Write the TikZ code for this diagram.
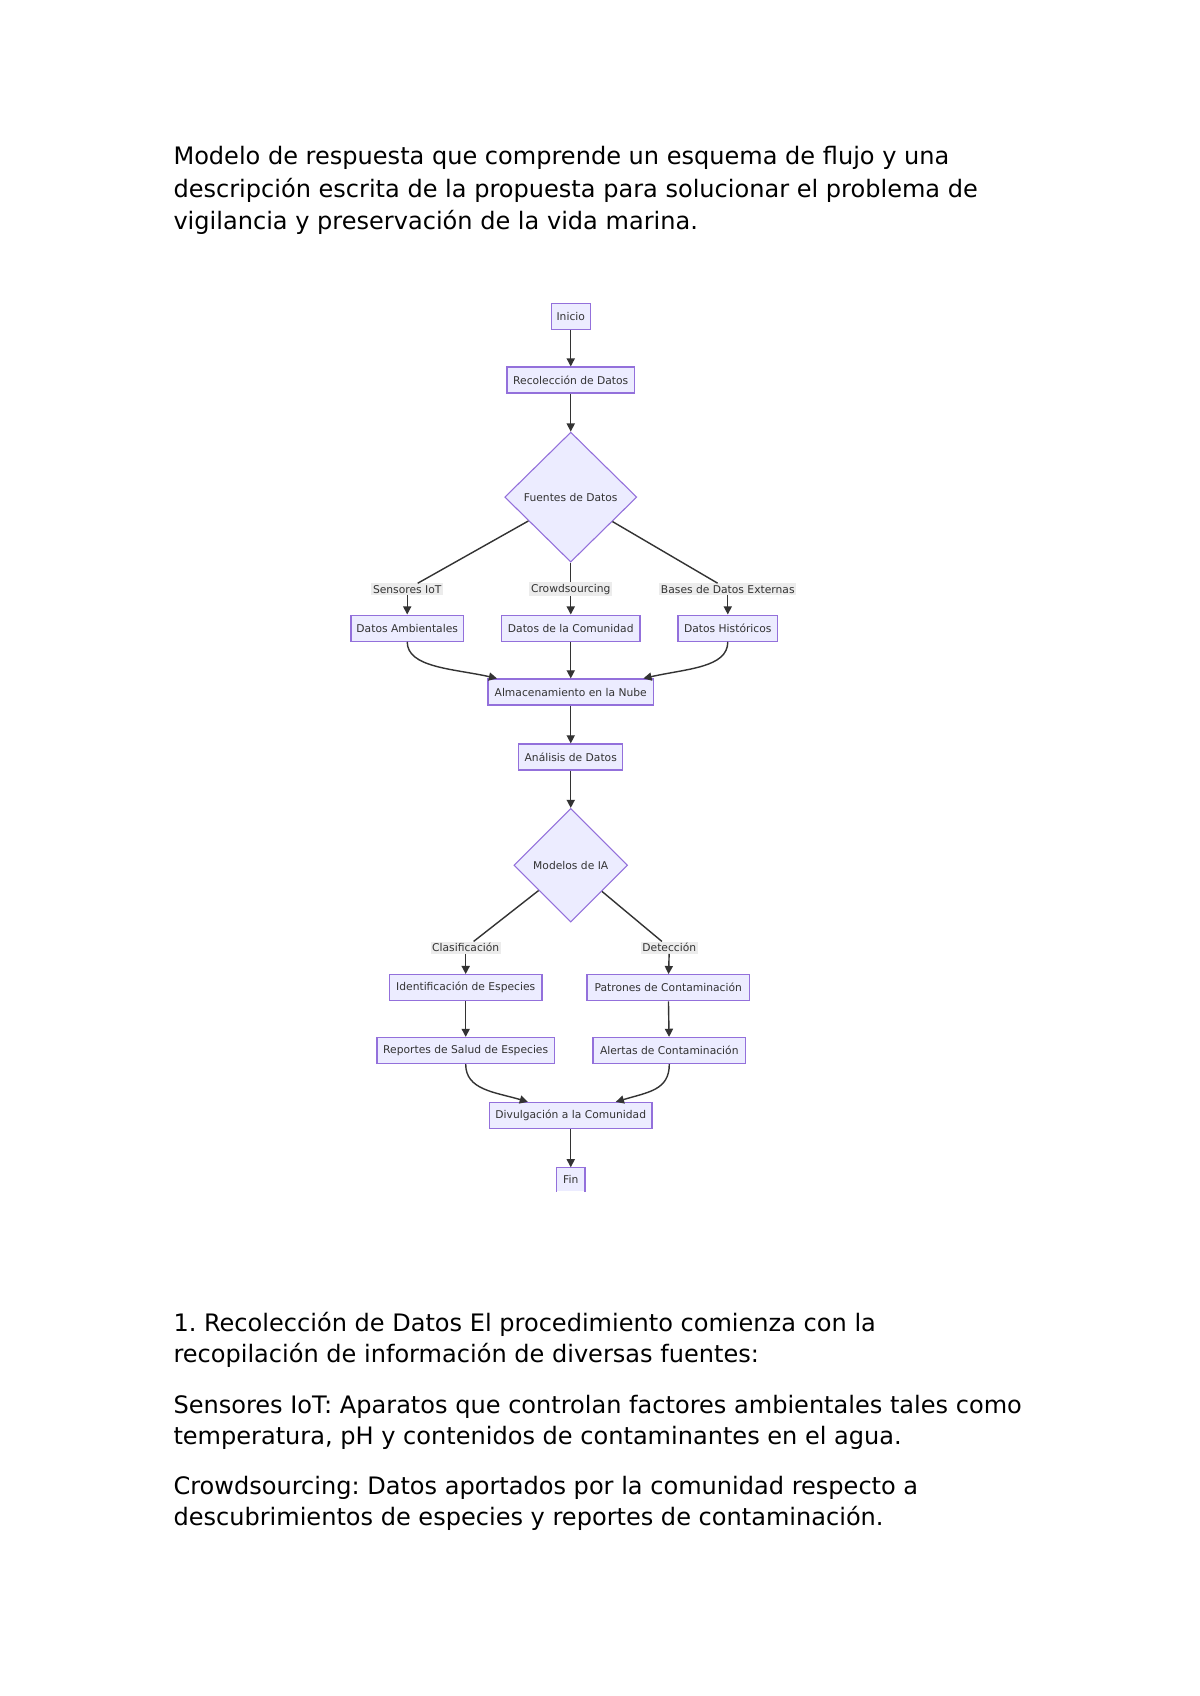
\documentclass[tikz,border=0pt]{standalone}
\usepackage{fontspec}
\setmainfont{DejaVu Sans}
\frenchspacing
\usetikzlibrary{shapes.geometric,arrows.meta}
\definecolor{nodefill}{HTML}{ECECFF}
\definecolor{nodeline}{HTML}{9370DB}
\definecolor{edgecol}{HTML}{333333}
\definecolor{lblbg}{HTML}{E8E8E8}
\begin{document}
\begin{tikzpicture}[x=1pt,y=-1pt,
  dfont/.style={font=\fontsize{9.9}{11}\selectfont, text=edgecol},
  box/.style={draw=nodeline, fill=nodefill, line width=1.2pt, inner sep=0pt, minimum height=24pt, dfont},
  dia/.style={diamond, draw=nodeline, fill=nodefill, line width=1pt, inner sep=0pt},
  lbl/.style={fill=lblbg, fill opacity=0.8, text opacity=1, inner sep=1.5pt, dfont},
  arr/.style={draw=edgecol, line width=1.3pt, -{Triangle[length=7.5pt,width=7.5pt]}},
  ln/.style={draw=edgecol, line width=1.3pt},
  para/.style={anchor=base west, inner sep=0pt, font=\fontsize{22.2}{30}\selectfont}
]
\useasboundingbox (0,0) rectangle (1108,1566);
\fill[white] (0,0) rectangle (1108,1566);

% top text
\node[para] (t1) at (160,152) {Modelo de respuesta que comprende un esquema de flujo y una};
\node[para] (t2) at (160,182) {descripción escrita de la propuesta para solucionar el problema de};
\node[para] (t3) at (160,212) {vigilancia y preservación de la vida marina.};

% flowchart nodes
\node[box, minimum width=36pt] (inicio) at (527,292) {Inicio};
\node[box, minimum width=118pt] (rec) at (527,351) {Recolección de Datos};
\node[dia, minimum width=122pt, minimum height=120pt] (fd) at (527,459) {};
\node[dfont] (fdt) at (fd) {Fuentes de Datos};

\node[lbl] (lsens) at (376,544) {Sensores IoT};
\node[lbl] (lcrowd) at (527,544) {Crowdsourcing};
\node[lbl] (lbases) at (672,544) {Bases de Datos Externas};

\node[box, minimum width=104pt] (amb) at (376,580) {Datos Ambientales};
\node[box, minimum width=128pt] (com) at (527,580) {Datos de la Comunidad};
\node[box, minimum width=92pt] (his) at (672,580) {Datos Históricos};

\node[box, minimum width=153pt] (alm) at (527,639) {Almacenamiento en la Nube};
\node[box, minimum width=96pt] (ana) at (527,699) {Análisis de Datos};
\node[dia, minimum width=105pt, minimum height=105pt] (mia) at (527,799) {};
\node[dfont] (miat) at (mia) {Modelos de IA};

\node[lbl] (lcla) at (430,875) {Clasificación};
\node[lbl] (ldet) at (618,875) {Detección};

\node[box, minimum width=141pt] (ide) at (430,912) {Identificación de Especies};
\node[box, minimum width=150pt] (pat) at (617,912) {Patrones de Contaminación};
\node[box, minimum width=164pt] (rep) at (430,970) {Reportes de Salud de Especies};
\node[box, minimum width=141pt] (ale) at (618,970) {Alertas de Contaminación};
\node[box, minimum width=150pt] (div) at (527,1030) {Divulgación a la Comunidad};
\node[fill=nodefill, inner sep=0pt, minimum width=26pt, minimum height=22pt, dfont] (fin) at (527,1089) {Fin};
\draw[nodeline, line width=1.2pt] (fin.south west) -- (fin.north west) -- (fin.north east) -- (fin.south east);

% connectors
\draw[arr] (inicio) -- (rec);
\draw[arr] (rec) -- (fd);
\draw[ln] (fd) -- (lsens);
\draw[ln] (fd) -- (lcrowd);
\draw[ln] (fd) -- (lbases);
\draw[arr] (lsens) -- (amb);
\draw[arr] (lcrowd) -- (com);
\draw[arr] (lbases) -- (his);
\draw[arr] (amb.south) .. controls +(0,24) and +(-40,-9) .. ([xshift=9pt]alm.north west);
\draw[arr] (com) -- (alm);
\draw[arr] (his.south) .. controls +(0,24) and +(40,-9) .. ([xshift=-10pt]alm.north east);
\draw[arr] (alm) -- (ana);
\draw[arr] (ana) -- (mia);
\draw[ln] (mia) -- (lcla);
\draw[ln] (mia) -- (ldet);
\draw[arr] (lcla) -- (ide);
\draw[arr] (ldet) -- (pat);
\draw[arr] (ide) -- (rep);
\draw[arr] (pat) -- (ale);
\draw[arr] (rep.south) .. controls +(0,24) and +(-30,-9) .. ([xshift=36pt]div.north west);
\draw[arr] (ale.south) .. controls +(0,24) and +(30,-9) .. ([xshift=-34pt]div.north east);
\draw[arr] (div) -- (fin);

% bottom text
\node[para] (b1) at (160,1229) {1. Recolección de Datos El procedimiento comienza con la};
\node[para] (b2) at (160,1258) {recopilación de información de diversas fuentes:};
\node[para] (b3) at (160,1305) {Sensores IoT: Aparatos que controlan factores ambientales tales como};
\node[para] (b4) at (160,1334) {temperatura, pH y contenidos de contaminantes en el agua.};
\node[para] (b5) at (160,1380) {Crowdsourcing: Datos aportados por la comunidad respecto a};
\node[para] (b6) at (160,1409) {descubrimientos de especies y reportes de contaminación.};
\end{tikzpicture}
\end{document}
